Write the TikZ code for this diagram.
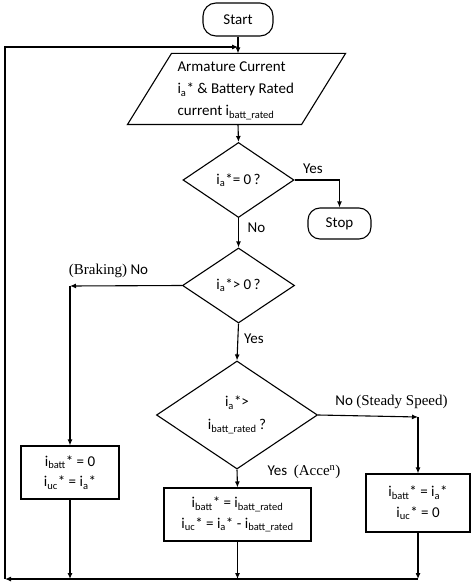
\documentclass[tikz,border=0pt]{standalone}
\usepackage{fontspec}
\setmainfont{Carlito}
\newfontfamily\tms{Liberation Serif}
\usetikzlibrary{shapes.geometric,arrows.meta,calc}
\newcommand\sbs[1]{\textsubscript{#1}}
\begin{document}
\begin{tikzpicture}[x=1pt,y=-1pt,
  line width=1.1pt,
  arr/.style={-{Latex[length=6pt,width=5pt]}},
  term/.style={draw, rounded corners=13pt, minimum width=70pt, minimum height=33pt, inner sep=0pt},
  dec/.style={draw, diamond, inner sep=0pt, align=center},
  proc/.style={draw, rectangle, align=center, inner sep=0pt, font=\fontsize{15}{20.5}\selectfont},
  lbl/.style={inner sep=0pt},
  font=\fontsize{15}{18}\selectfont]
\useasboundingbox (0,0) rectangle (474,588);

% nodes
\node[term] (start) at (238,19.5) {Start};
\node[minimum width=217pt, minimum height=70pt, inner sep=0pt] (input) at (236.5,89) {};
\draw (input.south west) -- ($(input.north west)+(44,0)$) -- (input.north east) -- ($(input.south east)+(-44,0)$) -- cycle;
\node[align=left, anchor=west, inner sep=0pt, font=\fontsize{15}{22}\selectfont] (inputtxt) at (177,91) {Armature Current\\ i\sbs{a}* \& Battery Rated\\ current i\sbs{batt\_rated}};

\node[dec, minimum width=111pt, minimum height=75pt] (d1) at (238.5,180) {i\sbs{a}*= 0\,?};
\node[term, minimum width=63pt, minimum height=31pt, rounded corners=12pt] (stop) at (339.5,223.5) {Stop};
\node[dec, minimum width=112pt, minimum height=75pt] (d2) at (238.5,285.5) {i\sbs{a}*> 0\,?};
\node[dec, minimum width=161pt, minimum height=108pt, font=\fontsize{15}{23}\selectfont] (d3) at (237,415) {i\sbs{a}*>\\ i\sbs{batt\_rated}\,?};

\node[proc, minimum width=98pt, minimum height=53pt] (lbox) at (70,472.5) {i\sbs{batt}* = 0\\ i\sbs{uc}* = i\sbs{a}*};
\node[proc, minimum width=147pt, minimum height=53pt] (mbox) at (237.5,514.5) {i\sbs{batt}* = i\sbs{batt\_rated}\\ i\sbs{uc}* = i\sbs{a}* - i\sbs{batt\_rated}};
\node[proc, minimum width=104pt, minimum height=58pt] (rbox) at (418,503) {i\sbs{batt}* = i\sbs{a}*\\ i\sbs{uc}* = 0};

% coordinates
\coordinate (fbtop) at (238,47);
\coordinate (tl) at (5,47);
\coordinate (bl) at (5,579);
\coordinate (brk) at (70,286);
\coordinate (std) at (418,417);
\coordinate (lb) at (70,579);
\coordinate (mb) at (237.5,579);
\coordinate (rb) at (418,579);

% connectors
\draw[arr] (start.south) -- (start.south |- input.north);
\draw[arr] (start.south |- input.south) -- (d1.north);
\draw[arr] (d1.east) -| (stop.north);
\draw[arr] (d1.south) -- (d2.north);
\draw[arr] (d2.west) -- (brk);
\draw[arr] (brk) -- (lbox.north);
\draw[arr] (d2.south) -- (d3.north);
\draw[arr] (d3.east) -- (std);
\draw[arr] (std) -- (rbox.north);
\draw[arr] (d3.south) -- (mbox.north);
\draw[arr] (lbox.south) -- (lb);
\draw[arr] (mbox.south) -- (mb);
\draw[arr] (rbox.south) -- (rb);
\draw[arr] (rb) -- (bl);
\draw[arr] (bl) -- (tl) -- (fbtop);

% labels
\node[lbl] at (313,169) {Yes};
\node[lbl] at (256.5,228) {No};
\node[lbl] at (108.5,271) {{\tms (Braking)} No};
\node[lbl] at (254,339) {Yes};
\node[lbl] at (391.5,402) {No {\tms (Steady Speed)}};
\node[lbl] at (304,472) {Yes\ \ {\tms (Acce\textsuperscript{n})}};
\end{tikzpicture}
\end{document}
